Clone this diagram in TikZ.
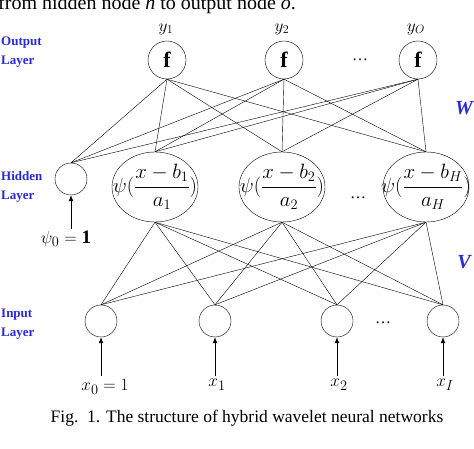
\documentclass[tikz,border=0pt]{standalone}
\usepackage{amssymb}
\usepackage{amsmath}
\usepackage{fontspec}
\setmainfont{Liberation Serif}
\usetikzlibrary{shapes.geometric,arrows.meta}

\definecolor{layerblue}{RGB}{40,40,220}
\tikzset{
  neuron/.style={draw, circle, thin, inner sep=0pt},
  wavelet/.style={draw, ellipse, thin, inner sep=0pt, minimum width=86pt, minimum height=70pt},
  waveletfont/.style={font=\fontsize{21}{21}\selectfont, inner sep=0pt},
  layerlabel/.style={text=layerblue, font=\fontsize{13}{19}\selectfont\bfseries, align=left, anchor=west, inner sep=0pt},
  weightlabel/.style={text=layerblue, font=\fontsize{20}{20}\selectfont\bfseries\itshape, inner sep=0pt},
  link/.style={thin},
  feed/.style={thick, -{Latex[length=6pt,width=5pt]}}
}

\begin{document}
\begin{tikzpicture}[x=1pt, y=-1pt]
    \useasboundingbox (0,0) rectangle (474,449);
    \clip (0,0) rectangle (474,449);

    % page text above the figure
    \node[anchor=base west, inner sep=0pt, font=\fontsize{20}{22}\selectfont] (pagetext) at (-2,10)
      {from hidden node \textit{h} to output node \textit{o}.};

    % output layer
    \node[neuron, minimum size=38pt, font=\fontsize{22}{22}\selectfont\bfseries] (out1) at (167,60) {f};
    \node[neuron, minimum size=38pt, font=\fontsize{22}{22}\selectfont\bfseries] (out2) at (284,60) {f};
    \node[neuron, minimum size=38pt, font=\fontsize{22}{22}\selectfont\bfseries] (out3) at (418,60) {f};
    \node[font=\fontsize{16}{16}\selectfont] (odots) at (360,60) {\dots};
    \node[font=\fontsize{18}{18}\selectfont] (y1) at (166,29) {$y_1$};
    \node[font=\fontsize{18}{18}\selectfont] (y2) at (282,29) {$y_2$};
    \node[font=\fontsize{18}{18}\selectfont] (yo) at (416,29) {$y_O$};

    % hidden layer
    \node[neuron, minimum size=32pt] (hb) at (71,179) {};
    \node[wavelet, label={[waveletfont]center:$\psi(\dfrac{x-b_1}{a_1})$}] (h1) at (155,187) {};
    \node[wavelet, label={[waveletfont]center:$\psi(\dfrac{x-b_2}{a_2})$}] (h2) at (282,187) {};
    \node[wavelet, label={[waveletfont]center:$\psi(\dfrac{x-b_H}{a_H})$}] (h3) at (426,187) {};
    \node[font=\fontsize{16}{16}\selectfont] (hdots) at (358,198) {\dots};
    \coordinate (hbin) at (71,229);
    \node[anchor=north, font=\fontsize{19}{19}\selectfont] (psi0) at (66,227) {$\psi_0 = \mathbf{1}$};

    % input layer
    \node[neuron, minimum size=32pt] (in0) at (101,321) {};
    \node[neuron, minimum size=32pt] (in1) at (215,321) {};
    \node[neuron, minimum size=32pt] (in2) at (337,321) {};
    \node[neuron, minimum size=32pt] (in3) at (443,321) {};
    \node[font=\fontsize{16}{16}\selectfont] (idots) at (383,323) {\dots};
    \coordinate (x0in) at (101,376);
    \coordinate (x1in) at (215,376);
    \coordinate (x2in) at (337,376);
    \coordinate (x3in) at (443,376);
    \node[anchor=north, font=\fontsize{19}{19}\selectfont] (x0) at (105,376) {$x_0 = 1$};
    \node[anchor=north, font=\fontsize{19}{19}\selectfont] (x1) at (217,376) {$x_1$};
    \node[anchor=north, font=\fontsize{19}{19}\selectfont] (x2) at (339,376) {$x_2$};
    \node[anchor=north, font=\fontsize{19}{19}\selectfont] (xi) at (445,376) {$x_I$};

    % layer names and weights
    \node[layerlabel] (outlab) at (1,52) {Output\\Layer};
    \node[layerlabel] (hidlab) at (1,187) {Hidden\\Layer};
    \node[layerlabel] (inlab) at (1,324) {Input\\Layer};
    \node[weightlabel] (wlab) at (464,108) {W};
    \node[weightlabel] (vlab) at (464,262) {V};

    % connections
    \foreach \o in {out1,out2,out3}
      \foreach \h in {hb,h1,h2,h3}
        \draw[link] (\o.south) -- (\h.north);
    \foreach \h in {h1,h2,h3}
      \foreach \i in {in0,in1,in2,in3}
        \draw[link] (\h.south) -- (\i.north);

    % external inputs
    \draw[feed] (hbin) -- (hb.south);
    \draw[feed] (x0in) -- (in0.south);
    \draw[feed] (x1in) -- (in1.south);
    \draw[feed] (x2in) -- (in2.south);
    \draw[feed] (x3in) -- (in3.south);

    % caption
    \node[font=\fontsize{17.5}{18}\selectfont] (caption) at (247,418)
      {Fig.\ \ 1. The structure of hybrid wavelet neural networks};
\end{tikzpicture}
\end{document}
